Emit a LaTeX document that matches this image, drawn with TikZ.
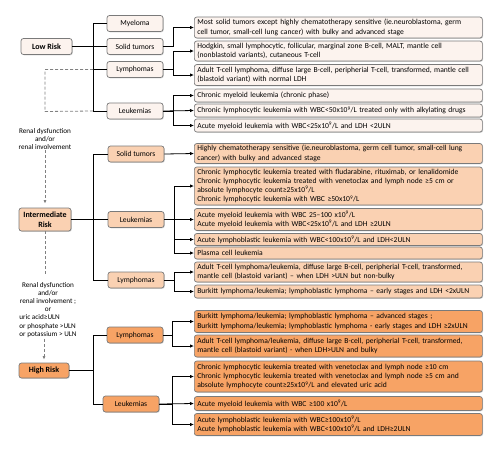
\documentclass[tikz,border=0pt]{standalone}
\usepackage{fontspec}
\setmainfont{Carlito}
\usetikzlibrary{arrows.meta,shadows}

\definecolor{lowfill}{HTML}{FCF3EE}
\definecolor{midfill}{HTML}{FAD1B2}
\definecolor{highfill}{HTML}{F7A365}
\definecolor{boxline}{HTML}{7A7A7A}
\newcommand{\tenn}{10\textsuperscript{9}}

\begin{document}
\begin{tikzpicture}[x=1pt, y=-1pt,
    font=\fontsize{7.6}{9.3}\selectfont,
    box/.style={draw=boxline, line width=0.7pt, rounded corners=2.5pt,
      drop shadow={shadow xshift=0.8pt, shadow yshift=-0.8pt, opacity=0.35, fill=gray}},
    riskbox/.style={box, font=\fontsize{8}{9.5}\selectfont\bfseries, align=center, inner sep=1pt},
    groupbox/.style={box, minimum width=56pt, minimum height=16pt, inner sep=1pt},
    factbox/.style={box, anchor=west, text width=282pt, align=left, inner xsep=3pt, inner ysep=0.5pt},
    conn/.style={line width=0.8pt},
    arr/.style={conn, -{Latex[length=4pt, width=3.5pt]}},
    renal/.style={gray, line width=0.8pt, dash pattern=on 3pt off 2pt},
    note/.style={font=\fontsize{7.2}{8.2}\selectfont, inner sep=0pt}]
    \useasboundingbox (0,0) rectangle (502,456);

    % low risk
    \node[riskbox, fill=lowfill, minimum width=51pt, minimum height=16pt] (lowrisk) at (46.5,46.5) {Low Risk};
    \node[groupbox, fill=lowfill] (lmye) at (135,23.5) {Myeloma};
    \node[groupbox, fill=lowfill] (lsol) at (135,46.5) {Solid tumors};
    \node[groupbox, fill=lowfill] (llym) at (135,69.5) {Lymphomas};
    \node[groupbox, fill=lowfill] (lleu) at (135,111) {Leukemias};

    \node[factbox, fill=lowfill, minimum height=21pt] (l1) at (194,27.5) {Most solid tumors except highly chematotherapy sensitive (ie.neuroblastoma, germ\\cell tumor, small-cell lung cancer) with bulky and advanced stage};
    \node[factbox, fill=lowfill, minimum height=20pt] (l2) at (194,51) {Hodgkin, small lymphocytic, follicular, marginal zone B-cell, MALT, mantle cell\\(nonblastoid variants), cutaneous T-cell};
    \node[factbox, fill=lowfill, minimum height=21pt] (l3) at (194,75) {Adult T-cell lymphoma, diffuse large B-cell, peripherial T-cell, transformed, mantle cell\\(blastoid variant) with normal LDH};
    \node[factbox, fill=lowfill, minimum height=13pt] (l4) at (194,95.5) {Chronic myeloid leukemia (chronic phase)};
    \node[factbox, fill=lowfill, minimum height=13pt] (l5) at (194,110.5) {Chronic lymphocytic leukemia with WBC<50x\tenn/L treated only with alkylating drugs};
    \node[factbox, fill=lowfill, minimum height=13pt] (l6) at (194,125.5) {Acute myeloid leukemia with WBC<25x\tenn/L and LDH <2ULN};

    \coordinate (ltop) at (93,23.5);
    \draw[conn] (lmye.west) -- (ltop) |- (lleu.west);
    \draw[conn] (lowrisk.east) -- (lsol.west);
    \draw[conn] (llym.west -| ltop) -- (llym.west);
    \draw[arr] (lsol.east) -- +(10,0) |- (l1.west);
    \draw[arr] (llym.east) -- +(10,0) |- (l2.west);
    \draw[arr] (llym.east) -- +(10,0) |- (l3.west);
    \draw[arr] (lleu.east) -- +(10,0) |- (l4.west);
    \draw[arr] (lleu.east) -- (l5.west);
    \draw[arr] (lleu.east) -- +(10,0) |- (l6.west);
    \draw[renal] (llym.west -| ltop) -- (45,69.5) -- (45,111.5) -- (lleu.west -| ltop);

    \node[note, align=center] (ren1) at (45,139) {Renal dysfunction\\and/or\\renal involvement};

    % intermediate risk
    \node[riskbox, fill=midfill, minimum width=52pt, minimum height=23pt] (intrisk) at (45,219.5) {Intermediate\\Risk};
    \node[groupbox, fill=midfill] (isol) at (136,154) {Solid tumors};
    \node[groupbox, fill=midfill] (ileu) at (136,219.5) {Leukemias};
    \node[groupbox, fill=midfill] (ilym) at (136,280) {Lymphomas};

    \node[factbox, fill=midfill, minimum height=20pt] (i1) at (194,153.5) {Highly chematotherapy sensitive (ie.neuroblastoma, germ cell tumor, small-cell lung\\cancer) with bulky and advanced stage};
    \node[factbox, fill=midfill, minimum height=38pt] (i2) at (194,186) {Chronic lymphocytic leukemia treated with fludarabine, rituximab, or lenalidomide\\Chronic lymphocytic leukemia treated with venetoclax and lymph node ≥5 cm or\\absolute lymphocyte count≥25x\tenn/L\\Chronic lymphocytic leukemia with WBC ≥50x\tenn/L};
    \node[factbox, fill=midfill, minimum height=22pt] (i3) at (194,219.5) {Acute myeloid leukemia with WBC 25–100 x\tenn/L\\Acute myeloid leukemia with WBC<25x\tenn/L and LDH ≥2ULN};
    \node[factbox, fill=midfill, minimum height=12pt] (i4) at (194,239.5) {Acute lymphoblastic leukemia with WBC<100x\tenn/L and LDH<2ULN};
    \node[factbox, fill=midfill, minimum height=12pt] (i5) at (194,253) {Plasma cell leukemia};
    \node[factbox, fill=midfill, minimum height=20pt] (i6) at (194,272) {Adult T-cell lymphoma/leukemia, diffuse large B-cell, peripherial T-cell, transformed,\\mantle cell (blastoid variant) – when LDH >ULN but non-bulky};
    \node[factbox, fill=midfill, minimum height=13pt] (i7) at (194,291.5) {Burkitt lymphoma/leukemia; lymphoblastic lymphoma – early stages and LDH <2xULN};

    \coordinate (itop) at (93,154);
    \draw[conn] (isol.west) -- (itop) |- (ilym.west);
    \draw[conn] (intrisk.east) -- (ileu.west);
    \draw[arr] (isol.east) -- (i1.west);
    \draw[arr] (ileu.east) -- +(10,0) |- (i2.west);
    \draw[arr] (ileu.east) -- (i3.west);
    \draw[arr] (ileu.east) -- +(10,0) |- (i4.west);
    \draw[arr] (ileu.east) -- +(10,0) |- (i5.west);
    \draw[arr] (ilym.east) -- +(10,0) |- (i6.west);
    \draw[arr] (ilym.east) -- +(10,0) |- (i7.west);

    \draw[renal, -{Latex[length=3.5pt, width=3pt]}, shorten >=4pt] (ren1.south) -- (intrisk.north);

    \node[note] (ren2) at (48,310) {\begin{tabular}{@{}l@{}}
      \multicolumn{1}{@{}c@{}}{Renal dysfunction}\\
      \multicolumn{1}{@{}c@{}}{and/or}\\
      \multicolumn{1}{@{}c@{}}{renal involvement ;}\\
      \multicolumn{1}{@{}c@{}}{or}\\
      uric acid≥ULN\\
      or phosphate >ULN\\
      or potassium > ULN
    \end{tabular}};
    \draw[renal] (intrisk.south) -- +(0,44);

    % high risk
    \node[riskbox, fill=highfill, minimum width=50pt, minimum height=15pt] (highrisk) at (44,370.5) {High Risk};
    \node[groupbox, fill=highfill] (hlym) at (135,335) {Lymphomas};
    \node[groupbox, fill=highfill] (hleu) at (131,404) {Leukemias};

    \node[factbox, fill=highfill, minimum height=22pt] (h1) at (194,321.5) {Burkitt lymphoma/leukemia; lymphoblastic lymphoma – advanced stages ;\\Burkitt lymphoma/leukemia; lymphoblastic lymphoma - early stages and LDH ≥2xULN};
    \node[factbox, fill=highfill, minimum height=22pt] (h2) at (194,346) {Adult T-cell lymphoma/leukemia, diffuse large B-cell, peripherial T-cell, transformed,\\mantle cell (blastoid variant) - when LDH>ULN and bulky};
    \node[factbox, fill=highfill, minimum height=31pt] (h3) at (194,376.5) {Chronic lymphocytic leukemia treated with venetoclax and lymph node ≥10 cm\\Chronic lymphocytic leukemia treated with venetoclax and lymph node ≥5 cm and\\absolute lymphocyte count≥25x\tenn/L and elevated uric acid};
    \node[factbox, fill=highfill, minimum height=14pt] (h4) at (194,403.5) {Acute myeloid leukemia with WBC ≥100 x\tenn/L};
    \node[factbox, fill=highfill, minimum height=22pt] (h5) at (194,424.5) {Acute lymphoblastic leukemia with WBC≥100x\tenn/L\\Acute lymphoblastic leukemia with WBC<100x\tenn/L and LDH≥2ULN};

    \coordinate (htop) at (93,335);
    \draw[conn] (hlym.west) -- (htop) |- (hleu.west);
    \draw[conn] (highrisk.east) -- (highrisk.east -| htop);
    \draw[arr] (hlym.east) -- +(9,0) |- (h1.west);
    \draw[arr] (hlym.east) -- +(9,0) |- (h2.west);
    \draw[arr] (hleu.east) -- +(13,0) |- (h3.west);
    \draw[arr] (hleu.east) -- (h4.west);
    \draw[arr] (hleu.east) -- +(13,0) |- (h5.west);

    \draw[renal, -{Latex[length=3.5pt, width=3pt]}, shorten >=3pt] (ren2.south -| highrisk) -- (highrisk.north);
  \end{tikzpicture}
\end{document}
